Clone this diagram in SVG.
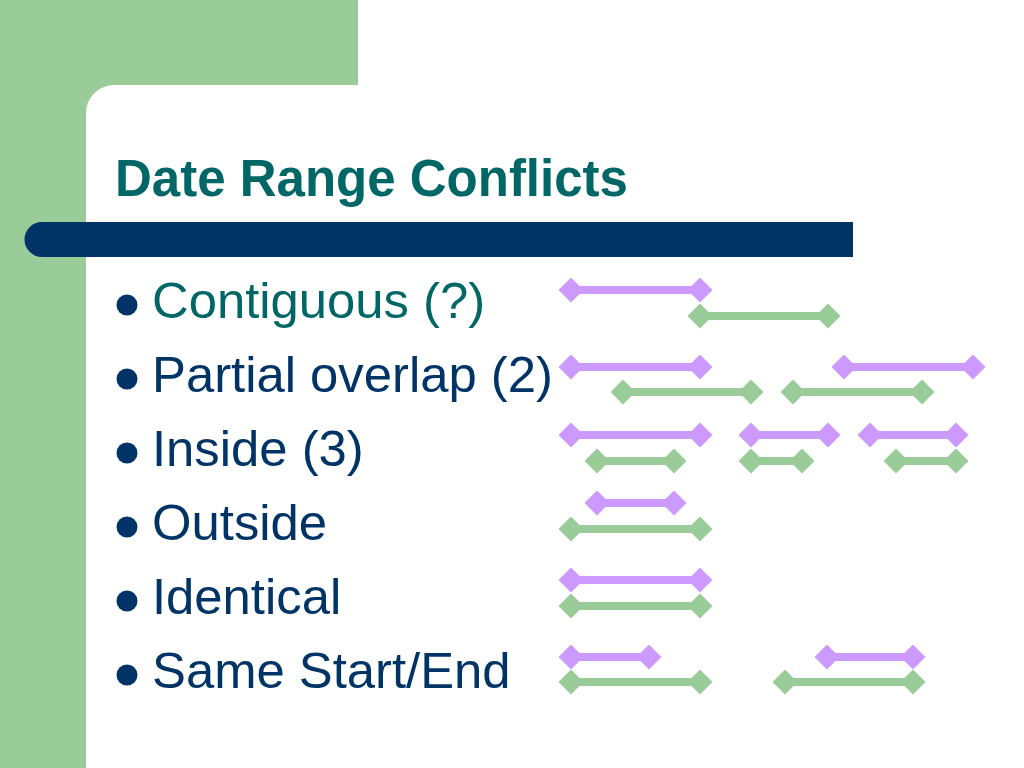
<svg xmlns="http://www.w3.org/2000/svg" width="1024" height="768" viewBox="0 0 1024 768">
  <style>
    .title { font-family: "Liberation Sans", Arial, sans-serif; font-weight: bold; font-size: 51px; fill: #006666; }
    .item { font-family: "Liberation Sans", Arial, sans-serif; font-size: 50.8px; fill: #003366; }
    .item.first { fill: #006666; }
    .dot { fill: #003366; }
    .p { stroke: #CC99FF; stroke-width: 8; marker-start: url(#dp); marker-end: url(#dp); }
    .g { stroke: #99CC99; stroke-width: 8; marker-start: url(#dg); marker-end: url(#dg); }
  </style>
  <defs>
    <marker id="dp" viewBox="-12.5 -12.5 25 25" markerWidth="25" markerHeight="25" refX="0" refY="0" markerUnits="userSpaceOnUse" orient="auto">
      <path d="M-12.5 0 L0 -12.5 L12.5 0 L0 12.5 Z" fill="#CC99FF"/>
    </marker>
    <marker id="dg" viewBox="-12.5 -12.5 25 25" markerWidth="25" markerHeight="25" refX="0" refY="0" markerUnits="userSpaceOnUse" orient="auto">
      <path d="M-12.5 0 L0 -12.5 L12.5 0 L0 12.5 Z" fill="#99CC99"/>
    </marker>
  </defs>

  <g id="background">
    <rect x="0" y="0" width="1024" height="768" fill="#FFFFFF"/>
    <path d="M0 0 H358 V85 H114 A28 28 0 0 0 86 113 V768 H0 Z" fill="#99CC99"/>
    <path d="M42 222 H853 V257 H42 A17.5 17.5 0 0 1 42 222 Z" fill="#003366"/>
  </g>

  <g id="title">
    <text class="title" x="115" y="196">Date Range Conflicts</text>
  </g>

  <g id="bullets">
    <g id="item-contiguous">
      <circle class="dot" cx="127" cy="305" r="10.5"/>
      <text class="item first" x="152" y="318">Contiguous (?)</text>
    </g>
    <g id="item-partial">
      <circle class="dot" cx="127" cy="379" r="10.5"/>
      <text class="item" x="152" y="392">Partial overlap (2)</text>
    </g>
    <g id="item-inside">
      <circle class="dot" cx="127" cy="453" r="10.5"/>
      <text class="item" x="152" y="466">Inside (3)</text>
    </g>
    <g id="item-outside">
      <circle class="dot" cx="127" cy="527" r="10.5"/>
      <text class="item" x="152" y="540">Outside</text>
    </g>
    <g id="item-identical">
      <circle class="dot" cx="127" cy="601" r="10.5"/>
      <text class="item" x="152" y="614">Identical</text>
    </g>
    <g id="item-samestartend">
      <circle class="dot" cx="127" cy="675" r="10.5"/>
      <text class="item" x="152" y="688">Same Start/End</text>
    </g>
  </g>

  <g id="connectors">
    <g id="row-contiguous">
      <line class="p" x1="571" y1="290" x2="700" y2="290"/>
      <line class="g" x1="700" y1="316" x2="828" y2="316"/>
    </g>
    <g id="row-partial">
      <line class="p" x1="571" y1="367" x2="700" y2="367"/>
      <line class="g" x1="623" y1="392" x2="751" y2="392"/>
      <line class="p" x1="844" y1="367" x2="973" y2="367"/>
      <line class="g" x1="793" y1="392" x2="922" y2="392"/>
    </g>
    <g id="row-inside">
      <line class="p" x1="571" y1="435" x2="700" y2="435"/>
      <line class="g" x1="597" y1="461" x2="674" y2="461"/>
      <line class="p" x1="751" y1="435" x2="828" y2="435"/>
      <line class="g" x1="751" y1="461" x2="802" y2="461"/>
      <line class="p" x1="870" y1="435" x2="956" y2="435"/>
      <line class="g" x1="896" y1="461" x2="956" y2="461"/>
    </g>
    <g id="row-outside">
      <line class="p" x1="597" y1="503" x2="674" y2="503"/>
      <line class="g" x1="571" y1="529" x2="700" y2="529"/>
    </g>
    <g id="row-identical">
      <line class="p" x1="571" y1="580" x2="700" y2="580"/>
      <line class="g" x1="571" y1="606" x2="700" y2="606"/>
    </g>
    <g id="row-samestartend">
      <line class="p" x1="571" y1="657" x2="649" y2="657"/>
      <line class="g" x1="571" y1="682" x2="700" y2="682"/>
      <line class="p" x1="827" y1="657" x2="913" y2="657"/>
      <line class="g" x1="785" y1="682" x2="913" y2="682"/>
    </g>
  </g>
</svg>
